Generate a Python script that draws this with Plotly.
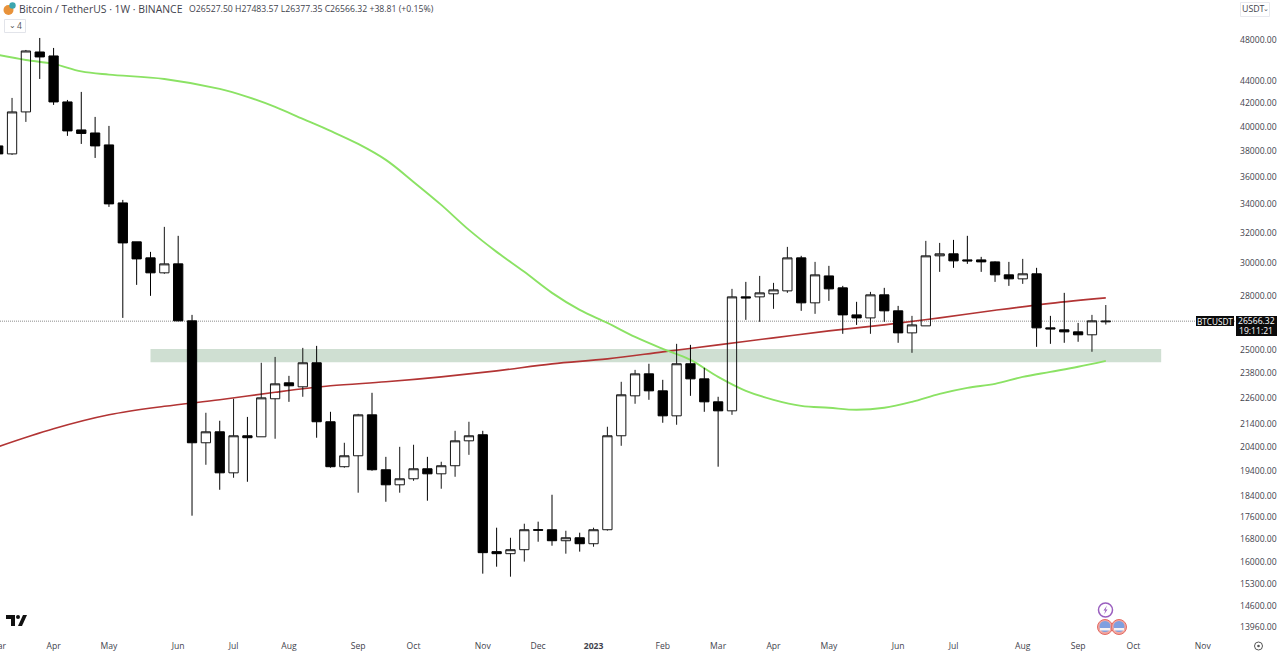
import plotly.graph_objects as go
import pandas as pd

# ---------- data ----------
first_week = "2022-03-07"
opens = [38410,37770,41257,46800,46413,42133,39723,39470,38490,34070,31390,30350,29410,29970,26585,20570,21050,19310,20875,20830,
         22565,23335,23140,24340,21500,19560,20015,21815,19435,18830,19070,19475,19270,19600,20655,20920,16360,16290,16427,17135,
         17132,16740,16845,16635,17132,20875,22705,23780,22945,21770,24290,23530,22420,22000,27960,27960,28140,28315,30350,27610,
         29220,28495,26920,26750,28080,27150,25920,26305,30480,30610,30222,30222,30095,29285,29040,29350,26195,26086,25975,25815,26527.50]
highs = [38570,42489,47000,48200,47200,42309,43030,40825,40060,34286,31390,30735,32395,31790,26920,21910,21545,22565,21720,24340,
         24640,23680,25115,25220,21955,20570,21860,22850,19970,20395,20485,19970,19765,21095,21500,21095,17205,16845,17350,17425,
         18440,17095,17025,17205,21275,23385,23980,24290,23483,25330,25275,24085,22660,28435,28855,29220,28795,31060,30480,30095,
         29845,28615,27670,28255,28495,27435,26865,31455,31320,31520,31790,30415,30130,30095,30285,29720,26865,28197,26470,26920,27483.57]
lows = [37610,37690,40400,44220,41870,39230,38570,37450,33785,26750,28675,28020,29350,26560,17645,19640,18634,19110,18950,20830,
        20745,22420,22660,20790,19520,19520,18520,19395,18170,18520,18990,18210,18675,19150,20055,15620,15850,15520,16020,16705,
        16565,16290,16360,16530,17100,20440,22330,22516,21455,21365,22705,21955,19560,21815,26640,26530,27265,28197,27150,26980,
        27725,25870,26360,25870,26530,25385,24855,26305,29470,29720,29970,29470,28855,28615,28735,25170,25330,25385,25440,24910,26377.35]
closes = [37770,41257,46900,46315,42133,39640,39430,38410,34000,31320,30285,29410,29970,26585,20570,21050,19310,20875,20790,22610,
          23285,23190,24340,21500,19560,20015,21815,19435,18830,19070,19475,19270,19600,20655,20875,16325,16290,16427,17132,17115,
          16740,16845,16635,17132,20875,22755,23780,22945,21770,24290,23530,22420,22000,27960,27900,28197,28375,30350,27610,29285,
          28435,26920,26750,28080,27150,25920,26360,30480,30610,30160,30160,30095,29285,29040,29350,26195,26140,25975,25815,26585,26566.32]

green_weeks = [0,2,4,6,8,12,16,18,20,22,24,26,28,30,32,34,36,38,40,42,44,46,48,50,52,54,56,58,60,62,64,66,68,70,72,74,76,78,80]
green_ma = [46511,46022,45640,44930,44623,44220,43300,42580,41690,40650,39640,38570,37295,35610,33930,32190,30735,29470,28197,27206,
            26470,25700,25065,24491,23630,22945,22516,22230,22140,22047,22140,22420,22800,23090,23285,23630,23880,24135,24435]
red_weeks = [0,4,8,12,16,20,24,28,32,36,40,44,48,52,56,60,64,68,72,76,80]
red_ma = [20400,21185,21815,22210,22516,22875,23190,23385,23630,23930,24285,24540,24905,25275,25650,26030,26360,26750,27180,27580,27900]

zone_low, zone_high = 24370, 25050
zone_start, zone_end = "2022-05-23", "2023-10-16"
last_price = 26566.32

y_ticks = [48000,44000,42000,40000,38000,36000,34000,32000,30000,28000,25000,23800,22600,21400,20400,19400,18400,17600,16800,16000,15300,14600,13960]
month_dates = ["2022-04-04","2022-05-02","2022-06-06","2022-07-04","2022-08-01","2022-09-05","2022-10-03","2022-11-07","2022-12-05",
               "2023-01-02","2023-02-06","2023-03-06","2023-04-03","2023-05-01","2023-06-05","2023-07-03","2023-08-07","2023-09-04","2023-10-02","2023-11-06"]
month_labels = ["Apr","May","Jun","Jul","Aug","Sep","Oct","Nov","Dec","<b>2023</b>","Feb","Mar","Apr","May","Jun","Jul","Aug","Sep","Oct","Nov"]

title_text = "Bitcoin / TetherUS · 1W · BINANCE"
ohlc_text = "O26527.50 H27483.57 L26377.35 C26566.32 +38.81 (+0.15%)"

# ---------- layout helpers ----------
W, H = 1280, 653
PLOT_W, PLOT_H = 1236, 635
FONT = "Open Sans"
TXT = "#3f434d"
WEEK_PX = 13.845
weeks = pd.date_range(first_week, periods=len(opens), freq="7D")
x_range = [pd.Timestamp(first_week) + pd.Timedelta(days=1.8 / WEEK_PX * 7),
           pd.Timestamp(first_week) + pd.Timedelta(days=(1236 + 1.8) / WEEK_PX * 7)]
y_range = [4.13763, 4.71774]

def px(x): return x / PLOT_W
def py(y): return 1 - y / PLOT_H

def note(x, y, text, size=9, color=TXT, anchor="left", font=FONT):
    return dict(x=px(x), y=py(y), xref="paper", yref="paper", text=text, showarrow=False, xanchor=anchor, yanchor="middle",
                font=dict(size=size, color=color, family=font), bgcolor="rgba(0,0,0,0)", borderpad=0, borderwidth=0)

def rect(x0, y0, x1, y1, fill, line="rgba(0,0,0,0)", width=0, layer="above"):
    return dict(type="rect", xref="paper", yref="paper", x0=px(x0), x1=px(x1), y0=py(y0), y1=py(y1),
                fillcolor=fill, line=dict(color=line, width=width), layer=layer)

def circle(cx, cy, r, fill, line="rgba(0,0,0,0)", width=0):
    return dict(type="circle", xref="paper", yref="paper", x0=px(cx - r), x1=px(cx + r), y0=py(cy - r), y1=py(cy + r),
                fillcolor=fill, line=dict(color=line, width=width), layer="above")

def poly(points, fill):
    d = "M " + " L ".join(f"{px(a):.5f} {py(b):.5f}" for a, b in points) + " Z"
    return dict(type="path", xref="paper", yref="paper", path=d, fillcolor=fill, line=dict(width=0), layer="above")

fig = go.Figure()
fig.add_trace(go.Scatter(x=[weeks[i] for i in red_weeks], y=red_ma, mode="lines", line=dict(color="#b23434", width=1.6, shape="spline"),
                         xaxis="x", yaxis="y", showlegend=False, hoverinfo="skip"))
fig.add_trace(go.Scatter(x=[weeks[i] for i in green_weeks], y=green_ma, mode="lines", line=dict(color="#8be264", width=1.9, shape="spline"),
                         xaxis="x", yaxis="y", showlegend=False, hoverinfo="skip"))
fig.add_trace(go.Candlestick(x=weeks, open=opens, high=highs, low=lows, close=closes, xaxis="x2", yaxis="y2", showlegend=False,
                             increasing=dict(line=dict(color="#151515", width=1), fillcolor="rgba(0,0,0,0)"),
                             decreasing=dict(line=dict(color="#000000", width=1), fillcolor="#000000"),
                             whiskerwidth=0))

shapes = [
    dict(type="rect", xref="x", yref="y", x0=zone_start, x1=zone_end, y0=zone_low, y1=zone_high,
         fillcolor="#cfdfd2", line=dict(width=0), layer="below"),
    dict(type="line", xref="paper", yref="y", x0=0, x1=1, y0=last_price, y1=last_price,
         line=dict(color="#8a8a8a", width=1, dash="1px,1px"), layer="below"),
    # header marks
    circle(8.5, 10, 5, "#e8923a"), circle(12.5, 5.5, 3.2, "#3aa6b0"),
    rect(4.5, 19.5, 25.5, 32.5, "#ffffff", "#e2e4ea", 1),
    rect(1240.5, 2.5, 1269.5, 16.5, "#ffffff", "#e8e9ee", 1),
    # price tags
    rect(1196, 316, 1234, 326, "#0b0b0b"),
    rect(1236, 316, 1277, 336, "#0b0b0b"),
    # TV logo
    poly([(6, 615), (15, 615), (15, 626), (11, 626), (11, 619), (6, 619)], "#111111"),
    circle(18, 617, 2, "#111111"),
    poly([(23, 615), (27, 615), (22, 626), (18, 626)], "#111111"),
    # event marks
    circle(1105.5, 610, 7, "#ffffff", "#9a5fbf", 1.5),
    poly([(1107, 605.5), (1103.5, 610.5), (1105.5, 610.5), (1104, 614.5), (1107.5, 609.5), (1105.5, 609.5)], "#9a5fbf"),
    circle(1105, 627, 7.5, "#f0a8a2", "#e46a62", 1),
    circle(1105, 626.5, 5.5, "#7f9fe0"),
    rect(1100, 628, 1110, 630.5, "#f7f3f3"),
    circle(1119, 627, 7.5, "#f0a8a2", "#e46a62", 1),
    circle(1119, 626.5, 5.5, "#7f9fe0"),
    rect(1114, 628, 1124, 630.5, "#f7f3f3"),
    # settings mark
    circle(1258.5, 646, 4, "#ffffff", "#555555", 1), circle(1258.5, 646, 1.3, "#555555"),
]

annotations = [
    note(19, 8.5, title_text, 10.4),
    note(189, 8.5, ohlc_text, 8.7),
    note(9, 26, "⌄", 8, "#555555", "left", "DejaVu Sans"),
    note(17, 26, "4", 8.5, "#555555"),
    note(1242, 9.5, "USDT", 8.8, TXT),
    note(1263, 9.5, "⌄", 7, "#555555", "left", "DejaVu Sans"),
    note(1215, 321, "BTCUSDT", 8.2, "#ffffff", "center"),
    note(1256.5, 321, "26566.32", 8.6, "#ffffff", "center"),
    note(1256.5, 331, "19:11:21", 8.6, "#ffffff", "center"),
    note(-1.5, 646, "Mar", 8.6, TXT, "center"),
]

fig.update_layout(
    width=W, height=H, autosize=False, paper_bgcolor="#ffffff", plot_bgcolor="rgba(0,0,0,0)",
    margin=dict(l=0, r=W - PLOT_W, t=0, b=H - PLOT_H),
    font=dict(family=FONT, size=9, color=TXT),
    boxgap=0.22, boxgroupgap=0.14,
    shapes=shapes, annotations=annotations, showlegend=False, hovermode=False,
    xaxis=dict(type="date", range=x_range, showgrid=False, zeroline=False, showline=False, ticks="",
               tickvals=month_dates, ticktext=month_labels, tickangle=0, tickfont=dict(size=8.6, color=TXT), ticklabelstandoff=4,
               rangeslider=dict(visible=False)),
    yaxis=dict(type="log", side="right", range=y_range, showgrid=False, zeroline=False, showline=False, ticks="",
               tickvals=y_ticks, ticktext=[f"{v:.2f}" for v in y_ticks], tickfont=dict(size=8.6, color=TXT), ticklabelstandoff=3),
    xaxis2=dict(type="date", range=x_range, overlaying="x", visible=False, rangeslider=dict(visible=False)),
    yaxis2=dict(type="log", range=y_range, overlaying="y", visible=False, side="right"),
)

fig.write_html("out.html", config=dict(displayModeBar=False),
               post_script="document.body.style.margin='0';document.body.style.overflow='hidden';")
